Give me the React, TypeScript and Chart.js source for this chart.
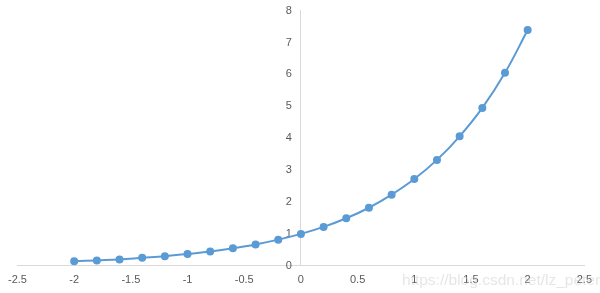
import React, { useEffect, useRef } from "react";
import { Chart, registerables } from "chart.js";

Chart.register(...registerables);

const xValues = [-2, -1.8, -1.6, -1.4, -1.2, -1, -0.8, -0.6, -0.4, -0.2, 0, 0.2, 0.4, 0.6, 0.8, 1, 1.2, 1.4, 1.6, 1.8, 2];
const yValues = [0.14, 0.17, 0.2, 0.25, 0.3, 0.37, 0.45, 0.55, 0.67, 0.82, 1.0, 1.22, 1.49, 1.82, 2.23, 2.72, 3.32, 4.06, 4.95, 6.05, 7.39];
const watermark = "https://blog.csdn.net/lz_peter";

export default function App() {
  const ref = useRef<HTMLCanvasElement | null>(null);
  useEffect(() => {
    document.body.style.margin = "0";
    const ctx = ref.current!;
    const chart = new Chart(ctx, {
      type: "scatter",
      data: {
        datasets: [
          {
            data: xValues.map((x, i) => ({ x, y: yValues[i] })),
            showLine: true,
            borderColor: "#5B9BD5",
            backgroundColor: "#5B9BD5",
            borderWidth: 2,
            pointRadius: 3,
            pointHoverRadius: 3,
            tension: 0.4,
          },
        ],
      },
      options: {
        animation: false,
        responsive: false,
        maintainAspectRatio: false,
        layout: { padding: { left: 17, right: 13, top: 0, bottom: -2 } },
        plugins: { legend: { display: false }, tooltip: { enabled: false } },
        scales: {
          x: {
            type: "linear",
            min: -2.5,
            max: 2.5,
            grid: { display: false, drawTicks: false },
            border: { display: true, color: "#D9D9D9", width: 1 },
            ticks: {
              stepSize: 0.5,
              color: "#595959",
              font: { family: "Liberation Sans", size: 11 },
              padding: 8,
              maxRotation: 0,
              callback: (v: any) => String(Number(v)),
            },
          },
          y: {
            type: "linear",
            min: 0,
            max: 8,
            position: { x: 0 },
            grid: { display: false, drawTicks: false },
            border: { display: true, color: "#D9D9D9", width: 1 },
            ticks: {
              stepSize: 1,
              color: "#595959",
              font: { family: "Liberation Sans", size: 11 },
              padding: 9,
              callback: (v: any) => String(Number(v)) + "   ",
            },
          },
        },
      },
    });
    return () => chart.destroy();
  }, []);
  return (
    <div style={{ position: "relative", width: 600, height: 293, overflow: "hidden" }}>
      <canvas
        ref={ref}
        width={600}
        height={298}
        style={{ display: "block", position: "absolute", left: 0, top: -5 }}
      />
      <div
        style={{
          position: "absolute",
          left: 402,
          top: 271,
          fontFamily: "Liberation Sans",
          fontSize: 15.5,
          color: "rgba(205,205,205,0.5)",
          whiteSpace: "nowrap",
        }}
      >
        {watermark}
      </div>
    </div>
  );
}
